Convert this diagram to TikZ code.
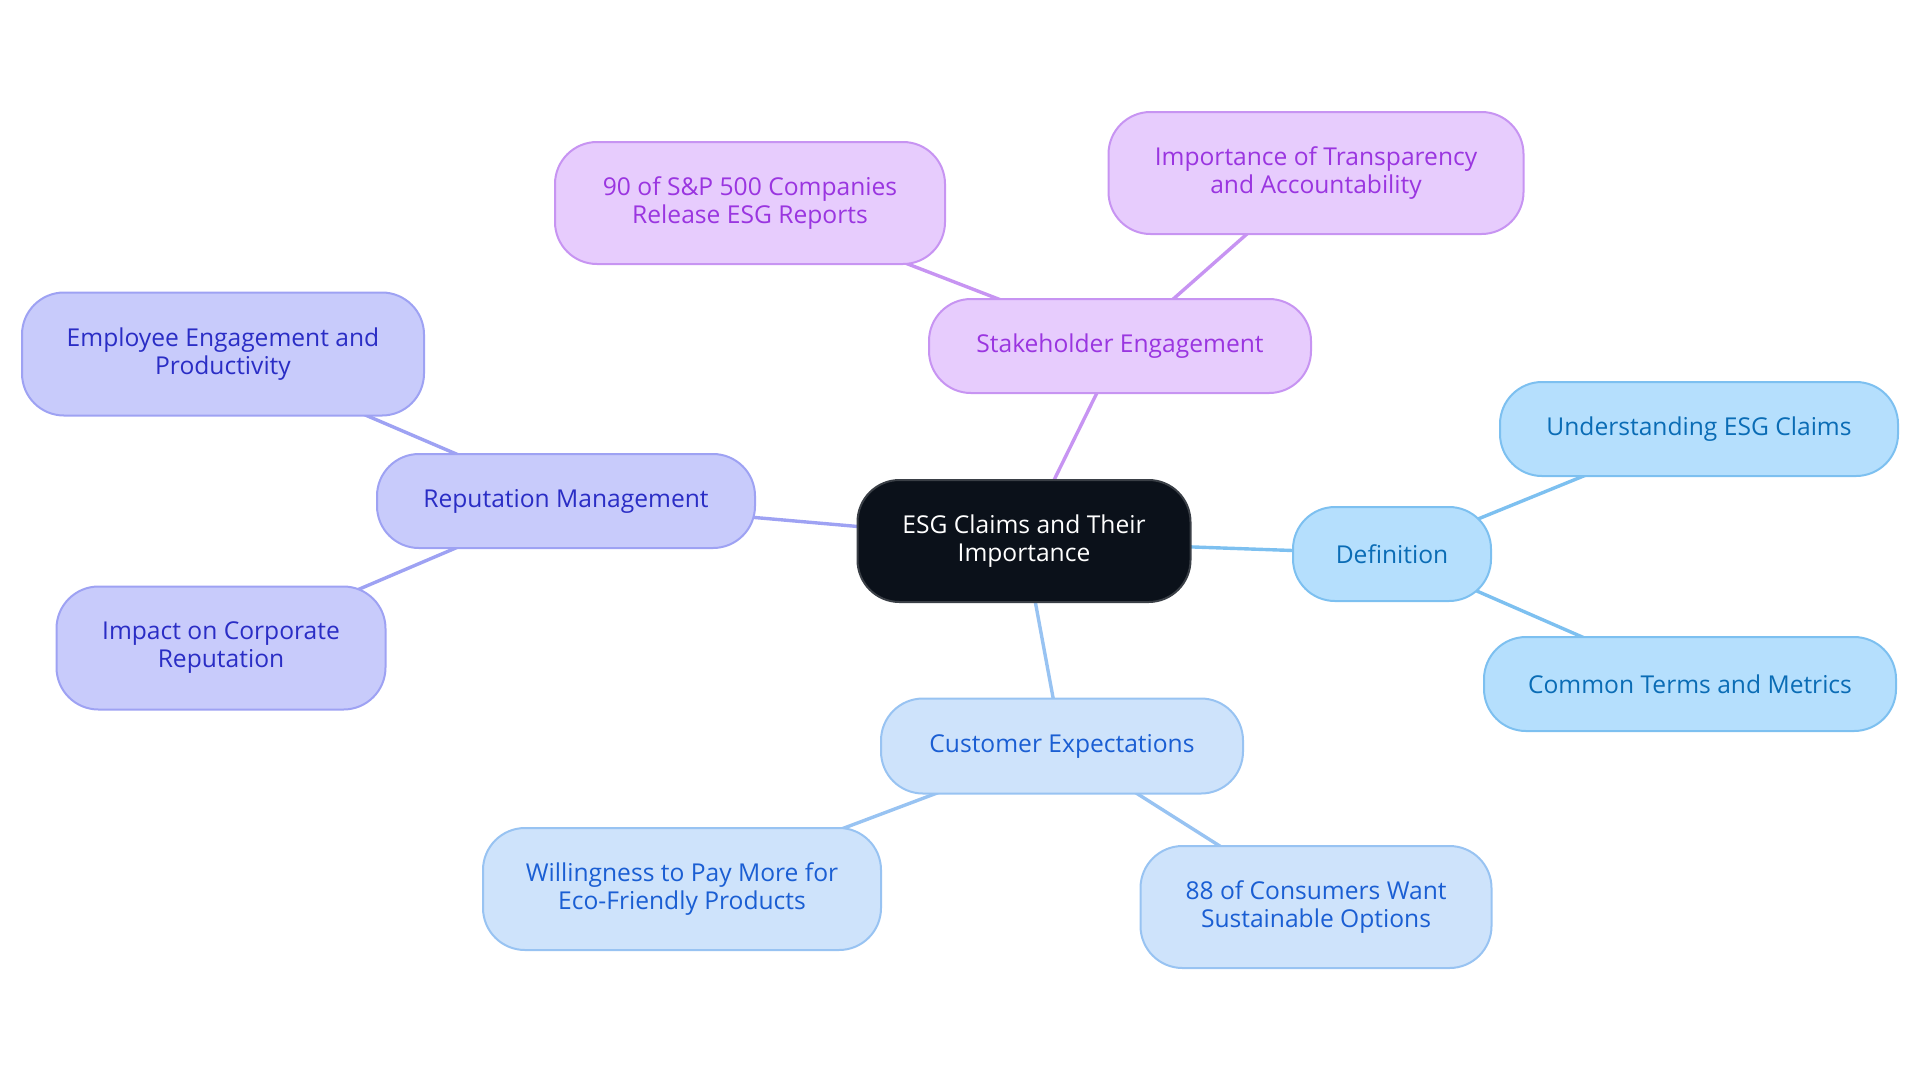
\documentclass[tikz,border=0pt]{standalone}
\usepackage{fontspec}
\setmainfont{Open Sans}
\pgfdeclarelayer{background}
\pgfsetlayers{background,main}
\definecolor{cfill}{HTML}{0B111A}\definecolor{cdraw}{HTML}{3A3F46}
\definecolor{pfill}{HTML}{E7CCFD}\definecolor{pdraw}{HTML}{C794F2}\definecolor{ptext}{HTML}{9A35E0}
\definecolor{ifill}{HTML}{C8CBFB}\definecolor{idraw}{HTML}{9EA2F3}\definecolor{itext}{HTML}{2A2DC5}
\definecolor{sfill}{HTML}{B5DFFD}\definecolor{sdraw}{HTML}{7DC0F0}\definecolor{stext}{HTML}{0A6CB5}
\definecolor{bfill}{HTML}{CEE3FB}\definecolor{bdraw}{HTML}{98C3F2}\definecolor{btext}{HTML}{1A5ED3}
\tikzset{
  box/.style={draw, line width=1pt, rounded corners=21pt, align=center, inner sep=0pt,
    font=\fontsize{12.3}{14}\selectfont},
  cbox/.style={box, fill=cfill, draw=cdraw, text=white},
  pbox/.style={box, fill=pfill, draw=pdraw, text=ptext},
  ibox/.style={box, fill=ifill, draw=idraw, text=itext},
  sbox/.style={box, fill=sfill, draw=sdraw, text=stext},
  bbox/.style={box, fill=bfill, draw=bdraw, text=btext},
  link/.style={line width=1.7pt},
}
\begin{document}
\begin{tikzpicture}[x=0.5pt,y=-0.5pt]
\useasboundingbox (0,0) rectangle (1920,1083);
% centre
\node[cbox, minimum width=166.5pt, minimum height=61pt] (c) at (1024,541) {ESG Claims and Their\\Importance};
% stakeholder
\node[pbox, minimum width=191pt, minimum height=47pt] (st) at (1120,346) {Stakeholder Engagement};
\node[pbox, minimum width=195pt, minimum height=61pt] (sp) at (750,203) {90 of S\&P 500 Companies\\Release ESG Reports};
\node[pbox, minimum width=207.5pt, minimum height=61pt] (tr) at (1316,173) {Importance of Transparency\\and Accountability};
% reputation
\node[ibox, minimum width=189pt, minimum height=47pt] (rm) at (566,501) {Reputation Management};
\node[ibox, minimum width=201pt, minimum height=61.5pt] (ee) at (223,354) {Employee Engagement and\\Productivity};
\node[ibox, minimum width=164.5pt, minimum height=61.5pt] (ic) at (221,648) {Impact on Corporate\\Reputation};
% definition
\node[sbox, minimum width=99pt, minimum height=47pt] (df) at (1392,554) {Definition};
\node[sbox, minimum width=199pt, minimum height=47pt] (ue) at (1699,429) {Understanding ESG Claims};
\node[sbox, minimum width=206pt, minimum height=47pt] (ct) at (1690,684) {Common Terms and Metrics};
% customer
\node[bbox, minimum width=181pt, minimum height=47.5pt] (ce) at (1062,746) {Customer Expectations};
\node[bbox, minimum width=199pt, minimum height=61pt] (wp) at (682,889) {Willingness to Pay More for\\Eco-Friendly Products};
\node[bbox, minimum width=175.5pt, minimum height=61pt] (co) at (1316,907) {88 of Consumers Want\\Sustainable Options};
% links
\begin{pgfonlayer}{background}
\draw[link, draw=pdraw] (c.center) -- (st.center);
\draw[link, draw=pdraw] (st.center) -- (sp.center);
\draw[link, draw=pdraw] (st.center) -- (tr.center);
\draw[link, draw=idraw] (c.center) -- (rm.center);
\draw[link, draw=idraw] (rm.center) -- (ee.center);
\draw[link, draw=idraw] (rm.center) -- (ic.center);
\draw[link, draw=sdraw] (c.center) -- (df.center);
\draw[link, draw=sdraw] (df.center) -- (ue.center);
\draw[link, draw=sdraw] (df.center) -- (ct.center);
\draw[link, draw=bdraw] (c.center) -- (ce.center);
\draw[link, draw=bdraw] (ce.center) -- (wp.center);
\draw[link, draw=bdraw] (ce.center) -- (co.center);
\end{pgfonlayer}
\end{tikzpicture}
\end{document}
